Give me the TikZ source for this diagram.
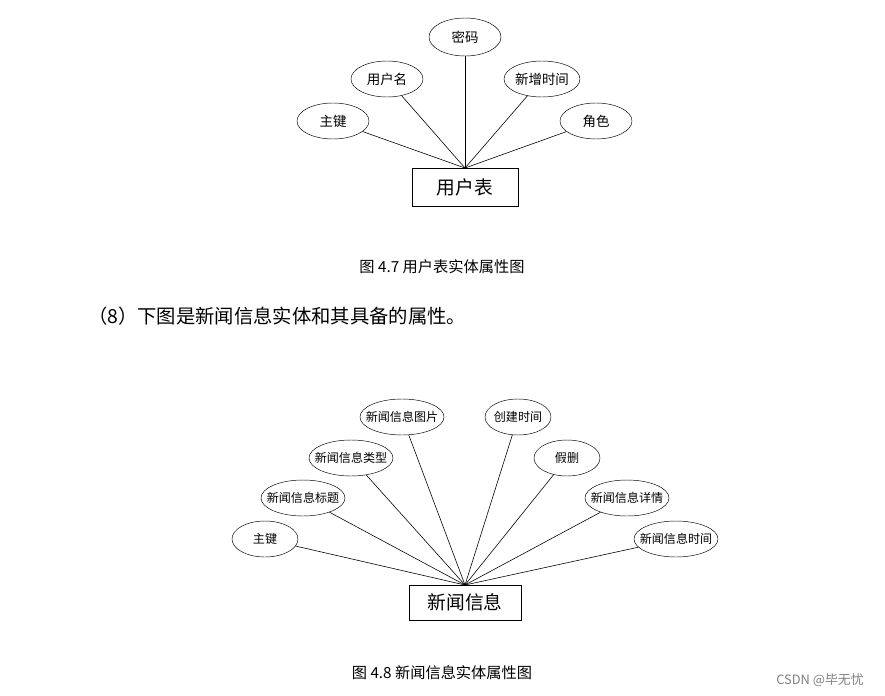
\documentclass[tikz,border=0pt]{standalone}
\usepackage{fontspec}
\setmainfont{Noto Sans CJK SC}
\usetikzlibrary{shapes.geometric}
\newcommand{\zw}[1]{\makebox[0pt]{#1}}
\begin{document}
\begin{tikzpicture}[x=0.03cm,y=-0.03cm,
  attr/.style={draw,ellipse,inner sep=0pt,font=\fontsize{11.5}{12}\selectfont},
  battr/.style={draw,ellipse,inner sep=0pt,minimum height=36*0.03cm,font=\fontsize{10.3}{11}\selectfont},
  ent/.style={draw,rectangle,inner sep=0pt,font=\fontsize{16}{18}\selectfont},
  captext/.style={font=\fontsize{13}{14}\selectfont},
  conn/.style={line width=0.5pt}]
\useasboundingbox (0,0) rectangle (885,696);
% top diagram
\node[ent,minimum width=106*0.03cm,minimum height=38*0.03cm] (u) at (465,187) {用户表};
\coordinate (uh) at (465,168);
\node[attr,minimum width=72*0.03cm,minimum height=38*0.03cm] (a1) at (465,37) {\zw{密码}};
\node[attr,minimum width=72*0.03cm,minimum height=36*0.03cm] (a2) at (387,79) {\zw{用户名}};
\node[attr,minimum width=76*0.03cm,minimum height=36*0.03cm] (a3) at (542,79) {\zw{新增时间}};
\node[attr,minimum width=72*0.03cm,minimum height=36*0.03cm] (a4) at (333,121) {\zw{主键}};
\node[attr,minimum width=72*0.03cm,minimum height=36*0.03cm] (a5) at (596,121) {\zw{角色}};
\foreach \n in {a1,a2,a3,a4,a5} \draw[conn] (\n) -- (uh);
\node[captext] (c1) at (442,267) {图 4.7 用户表实体属性图};
\node[anchor=west,font=\fontsize{16.5}{18}\selectfont] (p) at (84,316) {（8）下图是新闻信息实体和其具备的属性。};
% bottom diagram
\node[ent,minimum width=112*0.03cm,minimum height=35*0.03cm] (n) at (465,602.5) {新闻信息};
\coordinate (nh) at (465,585);
\node[battr,minimum width=84*0.03cm] (b1) at (402,417) {\zw{新闻信息图片}};
\node[battr,minimum width=66*0.03cm] (b2) at (518,417) {\zw{创建时间}};
\node[battr,minimum width=84*0.03cm] (b3) at (351,458) {\zw{新闻信息类型}};
\node[battr,minimum width=66*0.03cm] (b4) at (567,458) {\zw{假删}};
\node[battr,minimum width=84*0.03cm] (b5) at (303,498) {\zw{新闻信息标题}};
\node[battr,minimum width=84*0.03cm] (b6) at (627,498) {\zw{新闻信息详情}};
\node[battr,minimum width=66*0.03cm] (b7) at (265,539) {\zw{主键}};
\node[battr,minimum width=84*0.03cm] (b8) at (676,539) {\zw{新闻信息时间}};
\foreach \n in {b1,b2,b3,b4,b5,b6,b7,b8} \draw[conn] (\n) -- (nh);
\node[captext] (c2) at (442,673) {图 4.8 新闻信息实体属性图};
\node[text=gray,font=\fontsize{11}{12}\selectfont] (w) at (820,680) {CSDN @毕无忧};
\end{tikzpicture}
\end{document}
